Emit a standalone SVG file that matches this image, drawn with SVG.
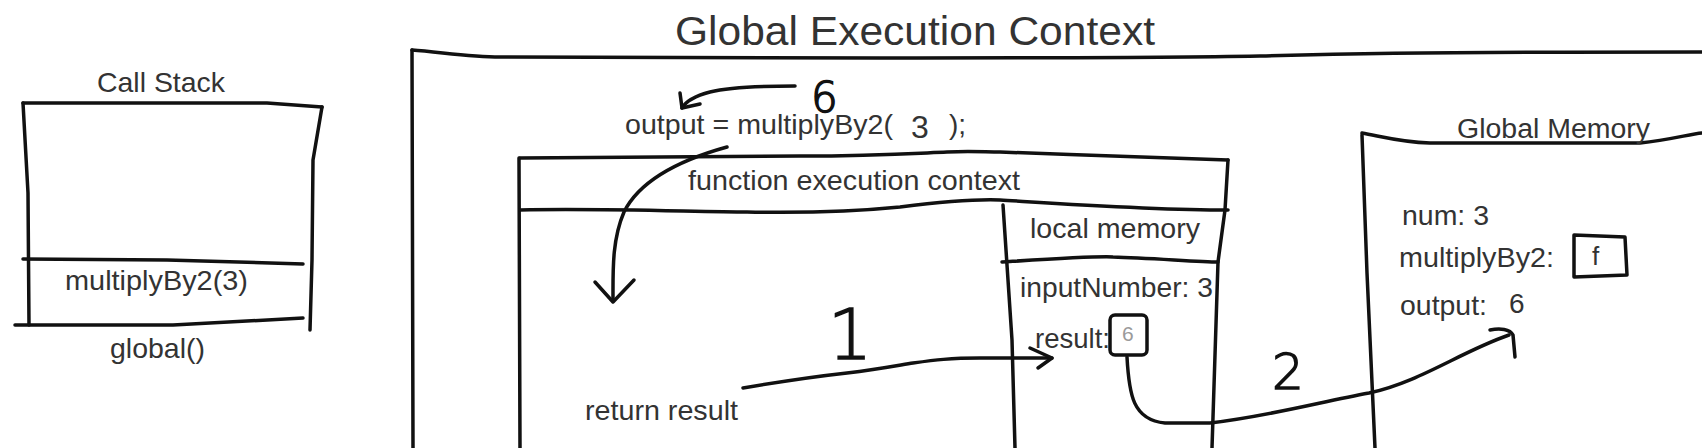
<svg xmlns="http://www.w3.org/2000/svg" width="1702" height="448" viewBox="0 0 1702 448">
<style>
.ln{fill:none;stroke:#111;stroke-width:3.5;stroke-linecap:round;stroke-linejoin:round}
.t{font-family:"Liberation Sans",Arial,sans-serif;font-size:28px;fill:#333}
.hw{font-family:"DejaVu Sans","Liberation Sans",sans-serif;font-weight:200;fill:#111;stroke:#111;stroke-width:1.5}
</style>
<rect width="1702" height="448" fill="#fff"/>

<g id="call-stack">
<text class="t" x="97" y="92" textLength="128" lengthAdjust="spacingAndGlyphs">Call Stack</text>
<path class="ln" d="M23,103 L267,103 L322,107"/>
<path class="ln" d="M23,103 L28,193 L29,325"/>
<path class="ln" d="M322,107 L313,160 L312,260 L310,330"/>
<path class="ln" d="M23,259 L167,260 L303,264"/>
<path class="ln" d="M15,325 L173,325 L303,318"/>
<text class="t" x="65" y="290" textLength="183" lengthAdjust="spacingAndGlyphs">multiplyBy2(3)</text>
<text class="t" x="110" y="358" textLength="95" lengthAdjust="spacingAndGlyphs">global()</text>
</g>

<g id="global-execution-context">
<text class="t" x="675" y="45" style="font-size:40px" textLength="480" lengthAdjust="spacingAndGlyphs">Global Execution Context</text>
<path class="ln" d="M412,50 C440,52 470,57 500,57 L880,58 C1000,58 1150,58 1260,56 C1330,54 1400,52 1702,52"/>
<path class="ln" d="M412,50 L413,448"/>
<text class="t" x="625" y="134"><tspan textLength="268" lengthAdjust="spacingAndGlyphs">output = multiplyBy2(</tspan><tspan x="911" y="138" style="font-size:32px">3</tspan><tspan x="949" y="134">);</tspan></text>
<text class="t" x="585" y="420" textLength="153" lengthAdjust="spacingAndGlyphs">return result</text>
</g>

<g id="function-execution-context">
<path class="ln" d="M520,158 C600,157 680,157 800,156 C880,156 920,153 947,152 C970,151 985,152 1000,152 C1080,155 1180,158 1228,160"/>
<path class="ln" d="M519,158 L520,448"/>
<path class="ln" d="M520,210 C600,208 700,212 747,212 C800,213 860,211 900,207 C940,202 975,199 1000,200 C1050,203 1150,210 1228,210"/>
<path class="ln" d="M1228,160 L1225,210 L1218,262 L1212,448"/>
<text class="t" x="688" y="190" textLength="332" lengthAdjust="spacingAndGlyphs">function execution context</text>
</g>

<g id="local-memory">
<path class="ln" d="M1003,205 L1012,340 L1015,448"/>
<path class="ln" d="M1002,262 C1050,259 1095,256 1113,257 C1150,258 1200,262 1218,262"/>
<text class="t" x="1030" y="238" textLength="170" lengthAdjust="spacingAndGlyphs">local memory</text>
<text class="t" x="1020" y="297" textLength="193" lengthAdjust="spacingAndGlyphs">inputNumber: 3</text>
<text class="t" x="1035" y="348" textLength="75" lengthAdjust="spacingAndGlyphs">result:</text>
<rect class="ln" x="1110" y="315" width="37" height="40" rx="5"/>
<text x="1122" y="341" style="font-family:'Liberation Sans',Arial,sans-serif;font-size:21px;fill:#9a9a9a">6</text>
</g>

<g id="global-memory">
<path class="ln" d="M1362,133 C1380,136 1400,142 1430,143 L1640,143 C1670,140 1690,134 1702,133"/>
<path class="ln" d="M1362,135 L1367,273 L1375,448"/>
<text class="t" x="1457" y="138" style="font-size:27px" textLength="193" lengthAdjust="spacingAndGlyphs">Global Memory</text>
<text class="t" x="1402" y="225" textLength="87" lengthAdjust="spacingAndGlyphs">num: 3</text>
<text class="t" x="1399" y="267" textLength="155" lengthAdjust="spacingAndGlyphs">multiplyBy2:</text>
<path class="ln" d="M1574,235 L1625,237 L1627,275 L1574,277 Z"/>
<text class="t" x="1592" y="265" style="font-size:26px">f</text>
<text class="t" x="1400" y="315" textLength="87" lengthAdjust="spacingAndGlyphs">output:</text>
<text class="t" x="1509" y="313">6</text>
</g>

<g id="connectors">
<path class="ln" d="M795,86 C760,86 730,87 710,92 C695,96 686,101 682,108"/>
<path class="ln" d="M680,93 L682,108 L700,104"/>
<path class="ln" d="M727,147 C680,160 640,180 624,212 C612,240 613,270 613,300"/>
<path class="ln" d="M595,282 L613,302 L634,280"/>
<path class="ln" d="M743,388 C790,380 820,376 847,373 C880,369 900,365 913,363 C935,360 950,358 980,358 L1052,358"/>
<path class="ln" d="M1030,348 L1052,358 L1038,368"/>
<path class="ln" d="M1127,357 C1129,395 1133,420 1165,423 L1210,423 C1270,416 1320,402 1369,393 C1420,382 1460,352 1509,335"/>
<path class="ln" d="M1490,330 C1500,328 1510,329 1513,335 L1515,357"/>
</g>

<g id="annotations">
<text class="hw" x="811" y="112" style="font-size:42px">6</text>
<text class="hw" x="850" y="359" text-anchor="middle" style="font-size:70px">1</text>
<text class="hw" x="1288" y="389" text-anchor="middle" style="font-size:50px">2</text>
</g>
</svg>
